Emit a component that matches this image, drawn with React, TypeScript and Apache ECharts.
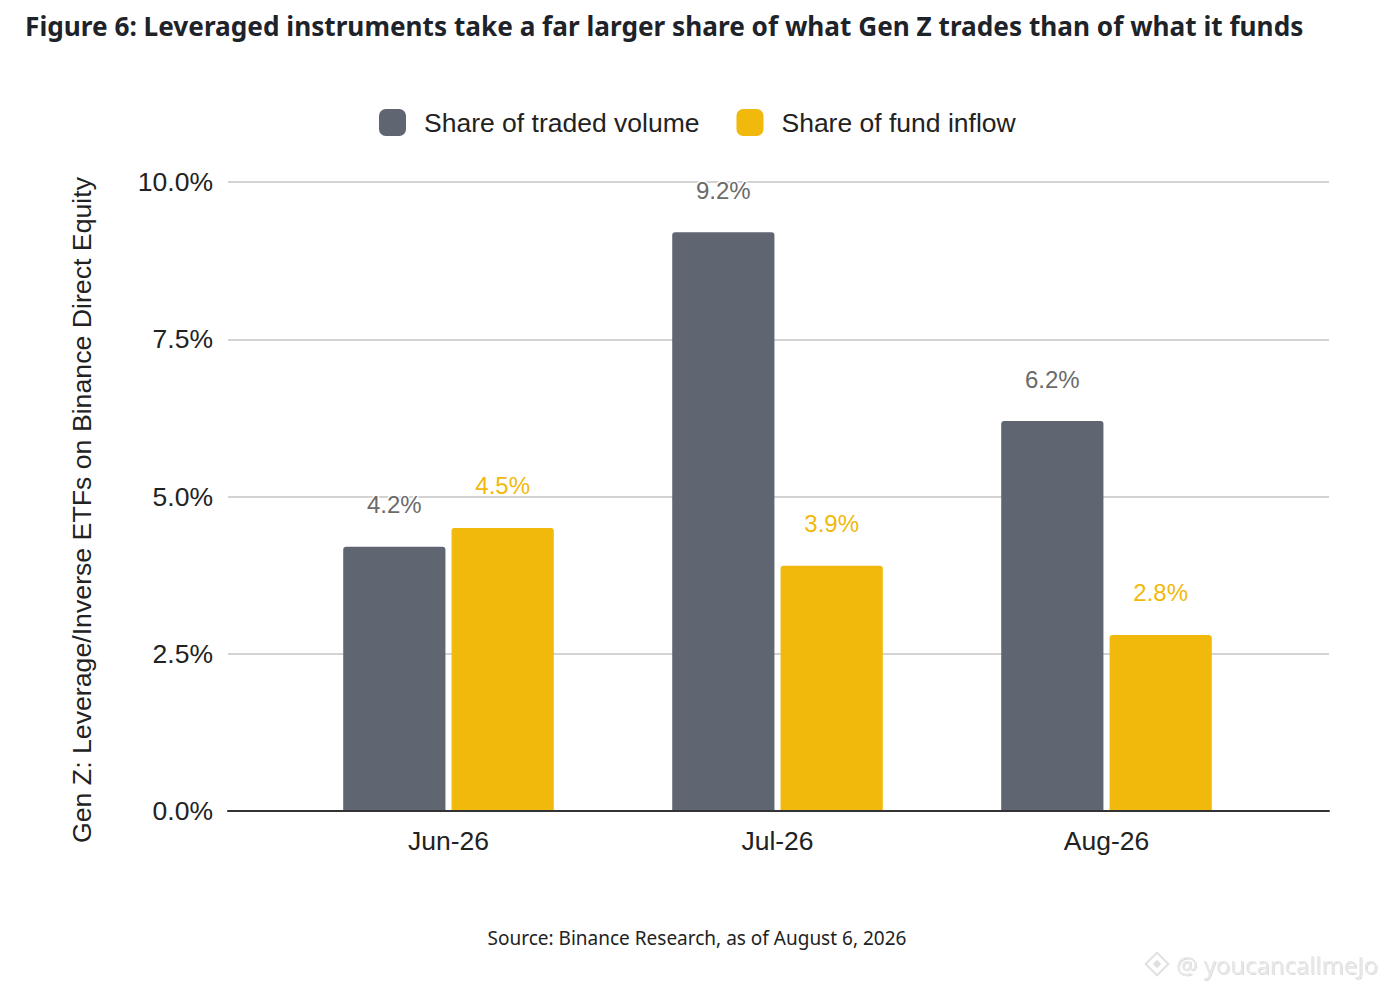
import { useEffect, useRef } from "react";
import * as echarts from "echarts";

const months = ["Jun-26", "Jul-26", "Aug-26"];
const tradedVolume = [4.2, 9.2, 6.2];
const fundInflow = [4.5, 3.9, 2.8];
const seriesNames = ["Share of traded volume", "Share of fund inflow"];

const GRAY = "#5f6571";
const YELLOW = "#f0b90b";

export default function App() {
  const chartRef = useRef<HTMLDivElement>(null);

  useEffect(() => {
    document.body.style.margin = "0";
    if (!chartRef.current) return;
    const chart = echarts.init(chartRef.current, null, { renderer: "svg" });

    const label = (color: string) => ({
      show: true,
      position: "top",
      distance: 30,
      fontSize: 24,
      color,
      textBorderColor: "#fff",
      textBorderWidth: 3,
      formatter: (p: any) => p.value.toFixed(1) + "%",
    });

    chart.setOption({
      animation: false,
      textStyle: { fontFamily: "Liberation Sans, Arial, sans-serif" },
      title: {
        text: "Figure 6: Leveraged instruments take a far larger share of what Gen Z trades than of what it funds",
        left: 20,
        top: 8,
        textStyle: {
          fontFamily: "Noto Sans",
          fontWeight: "bold",
          fontSize: 26.2,
          color: "#1e2329",
        },
      },
      legend: {
        left: 374,
        top: 104,
        itemWidth: 27,
        itemHeight: 27,
        itemGap: 37,
        icon: "roundRect",
        data: seriesNames,
        textStyle: { fontSize: 26.5, color: "#222", padding: [0, 0, 0, 13] },
      },
      grid: [
        { left: 228, right: 57, top: 182, bottom: 177 },
        { left: 284, right: 115, top: 182, bottom: 177 },
      ],
      xAxis: [
        {
          type: "category",
          gridIndex: 0,
          data: [""],
          axisLine: { lineStyle: { color: "#333", width: 2 } },
          axisTick: { show: false },
          axisLabel: { show: false },
          z: 5,
        },
        {
          type: "category",
          gridIndex: 1,
          data: months,
          axisLine: { show: false },
          axisTick: { show: false },
          axisLabel: { fontSize: 26.5, color: "#222", margin: 16 },
        },
      ],
      yAxis: [
        {
          type: "value",
          gridIndex: 0,
          min: 0,
          max: 10,
          interval: 2.5,
          axisLine: { show: false },
          axisTick: { show: false },
          axisLabel: {
            fontSize: 26.5,
            color: "#222",
            margin: 15,
            formatter: (v: number) => v.toFixed(1) + "%",
          },
          splitLine: { lineStyle: { color: "#d3d3d3", width: 2 } },
        },
        {
          type: "value",
          gridIndex: 1,
          min: 0,
          max: 10,
          interval: 2.5,
          show: false,
          splitLine: { show: false },
        },
      ],
      series: [
        {
          name: seriesNames[0],
          type: "bar",
          xAxisIndex: 1,
          yAxisIndex: 1,
          data: tradedVolume,
          barCategoryGap: "36%",
          barGap: "6%",
          itemStyle: { color: GRAY, borderRadius: [3, 3, 0, 0] },
          label: label("#6b6b6b"),
        },
        {
          name: seriesNames[1],
          type: "bar",
          xAxisIndex: 1,
          yAxisIndex: 1,
          data: fundInflow,
          barCategoryGap: "36%",
          barGap: "6%",
          itemStyle: { color: YELLOW, borderRadius: [3, 3, 0, 0] },
          label: label(YELLOW),
        },
      ],
      graphic: [
        {
          type: "text",
          x: 82,
          y: 510,
          rotation: Math.PI / 2,
          style: {
            text: "Gen Z: Leverage/Inverse ETFs on Binance Direct Equity",
            fontFamily: "Liberation Sans, Arial, sans-serif",
            fontSize: 26.7,
            fill: "#222",
            align: "center",
            verticalAlign: "middle",
          },
        },
        {
          type: "text",
          x: 697,
          y: 938,
          style: {
            text: "Source: Binance Research, as of August 6, 2026",
            fontFamily: "Noto Sans",
            fontSize: 19,
            fill: "#222",
            align: "center",
            verticalAlign: "middle",
          },
        },
        {
          type: "group",
          x: 1157,
          y: 964,
          children: [
            {
              type: "rect",
              rotation: Math.PI / 4,
              shape: { x: -8, y: -8, width: 16, height: 16 },
              style: { fill: "none", stroke: "#e0e0e0", lineWidth: 2 },
            },
            {
              type: "rect",
              rotation: Math.PI / 4,
              shape: { x: -3, y: -3, width: 6, height: 6 },
              style: { fill: "#e0e0e0" },
            },
          ],
        },
        {
          type: "text",
          x: 1176,
          y: 964,
          style: {
            text: "@ youcancallmeJo",
            fontFamily: "Open Sans",
            fontSize: 24,
            fill: "#e6e6e6",
            verticalAlign: "middle",
            textShadowColor: "rgba(0,0,0,0.15)",
            textShadowBlur: 1,
            textShadowOffsetX: 1,
            textShadowOffsetY: 1,
          },
        },
      ],
    });

    return () => chart.dispose();
  }, []);

  return <div ref={chartRef} style={{ width: 1386, height: 988 }} />;
}
